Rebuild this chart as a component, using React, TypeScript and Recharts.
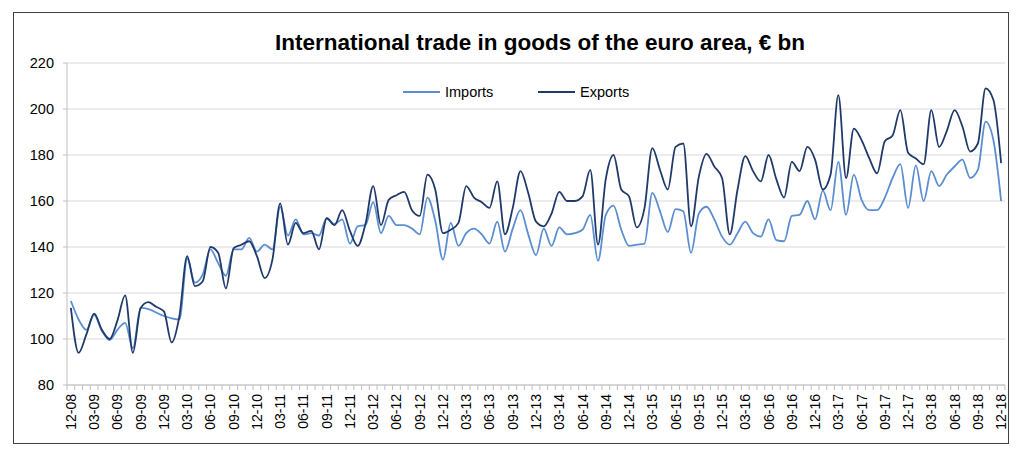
import { LineChart, Line, XAxis, YAxis, CartesianGrid } from "recharts";

// monthly, 12-08 .. 12-18
const months = Array.from({ length: 121 }, (_, i) => {
    const m = ((11 + i) % 12) + 1;
    const y = 8 + Math.floor((11 + i) / 12);
    return `${String(m).padStart(2, "0")}-${String(y).padStart(2, "0")}`;
});

const imports = [
    116.5, 108.5, 104, 110.5, 103.5, 99.5, 104, 107, 96, 113.5, 113, 111.5,
    110, 109, 108.5, 135, 124.5, 128, 139, 133, 127.5, 139, 139, 144,
    138, 141, 139, 157.5, 145, 152, 145.5, 146, 145, 152.5, 150, 152,
    141.5, 149, 149.5, 159.5, 146, 153.5, 149.5, 149.5, 148, 145.5, 161.5, 151.5,
    134.5, 150.5, 140.5, 146, 148, 145.5, 141.5, 151, 138, 148, 156, 145.5,
    136.5, 148, 140.5, 148.5, 145.5, 146, 147.5, 154, 134, 154, 158, 147.5,
    140.5, 141, 141.5, 163.5, 155.5, 146.5, 156.5, 155.5, 137.5, 154.5, 157.5, 152,
    144.5, 141, 146, 151, 146, 144.5, 152, 143, 142.5, 153.5, 154, 160,
    152, 164.5, 156, 177, 154, 171.5, 160.5, 156, 156, 161.5, 170, 176,
    157, 175.5, 160, 173, 166.5, 171.5, 175, 178, 170, 173.5, 194.5, 186.5,
    160,
];

const exports = [
    113.5, 94, 102, 111, 104, 100, 108, 119, 94, 113.5, 116, 114,
    112, 98.5, 110, 136, 123, 125, 140, 137.5, 122, 139.5, 141, 142.5,
    136, 126.5, 134.5, 159, 141, 150.5, 146, 147, 139, 152.5, 149.5, 156,
    147, 140.5, 150, 166.5, 149.5, 160.5, 162.5, 164, 156, 153.5, 171.5, 165,
    146, 147.5, 150.5, 166.5, 161.5, 159.5, 157, 168.5, 145.5, 157, 173, 163.5,
    151, 149, 154.5, 164, 160, 160, 162, 173.5, 141, 169.5, 180, 165,
    162, 148.5, 157, 183, 173.5, 165, 183.5, 185, 149, 170.5, 180.5, 175,
    170, 145.5, 165, 179.5, 173, 168.5, 180, 169.5, 161.5, 177, 173, 183.5,
    178, 165, 171.5, 206, 170, 191.5, 186.5, 178.5, 172, 186, 188.5, 199.5,
    181, 178.5, 176, 199.5, 183.5, 190.5, 199.5, 192.5, 181.5, 185, 209, 204,
    176.5,
];

const yTicks = [80, 100, 120, 140, 160, 180, 200, 220];

const series = [
    { key: "imports", name: "Imports", color: "#5b8ed1" },
    { key: "exports", name: "Exports", color: "#1f3a6a" },
];

const data = months.map((m, i) => ({ month: m, imports: imports[i], exports: exports[i] }));

const PAD = 3.88;
const HALF = 3.876;
const FONT = "'Liberation Sans', Arial, sans-serif";

const MonthTick = (props: any) => {
    const { x, y, payload } = props;
    const i = payload.index;
    return (
        <g>
            <line x1={x - HALF} x2={x - HALF} y1={y} y2={y + 5} stroke="#bfbfbf" />
            {i === months.length - 1 && (
                <line x1={x + HALF} x2={x + HALF} y1={y} y2={y + 5} stroke="#bfbfbf" />
            )}
            {i % 3 === 0 && (
                <text
                    x={x}
                    y={y + 9}
                    transform={`rotate(-90, ${x}, ${y + 9})`}
                    textAnchor="end"
                    dominantBaseline="central"
                    fontSize={14}
                    fontFamily={FONT}
                    fill="#000"
                >
                    {payload.value}
                </text>
            )}
        </g>
    );
};

export default function App() {
    return (
        <div style={{ position: "absolute", left: 0, top: 0, width: 1024, height: 461, background: "#fff", fontFamily: FONT }}>
            <div style={{
                position: "absolute",
                left: 13,
                top: 12,
                width: 994,
                height: 430,
                border: "1.5px solid #404040",
            }} />
            <div style={{
                position: "absolute",
                left: 540,
                top: 31,
                transform: "translateX(-50%)",
                whiteSpace: "nowrap",
                fontSize: 22.5,
                fontWeight: 700,
                lineHeight: "24px",
                color: "#000",
            }}>
                International trade in goods of the euro area, € bn
            </div>
            <div style={{ position: "absolute", left: 0, top: 0 }}>
                <LineChart
                    width={1024}
                    height={461}
                    data={data}
                    margin={{ top: 63, right: 19, left: 7, bottom: 16 }}
                >
                    <CartesianGrid stroke="#d9d9d9" vertical={false} />
                    <XAxis
                        dataKey="month"
                        interval={0}
                        height={60}
                        padding={{ left: PAD, right: PAD }}
                        tick={<MonthTick />}
                        tickLine={false}
                        tickSize={0}
                        tickMargin={0}
                        axisLine={{ stroke: "#bfbfbf" }}
                    />
                    <YAxis
                        domain={[80, 220]}
                        ticks={yTicks}
                        interval={0}
                        width={60}
                        tickSize={4}
                        tickMargin={9}
                        tickLine={{ stroke: "#bfbfbf" }}
                        axisLine={{ stroke: "#bfbfbf" }}
                        tick={{ fontSize: 14.5, fill: "#000", fontFamily: FONT }}
                    />
                    {series.map((s) => (
                        <Line
                            key={s.key}
                            type="monotone"
                            dataKey={s.key}
                            name={s.name}
                            stroke={s.color}
                            strokeWidth={1.8}
                            dot={false}
                            isAnimationActive={false}
                        />
                    ))}
                </LineChart>
            </div>
            {series.map((s, i) => (
                <div key={s.key} style={{
                    position: "absolute",
                    left: 403 + i * 135,
                    top: 83,
                    display: "flex",
                    alignItems: "center",
                    gap: 5,
                    fontSize: 14.5,
                    color: "#000",
                    lineHeight: "18px",
                }}>
                    <svg width={37} height={4}>
                        <line x1={0} x2={37} y1={2} y2={2} stroke={s.color} strokeWidth={1.8} />
                    </svg>
                    {s.name}
                </div>
            ))}
        </div>
    );
}
